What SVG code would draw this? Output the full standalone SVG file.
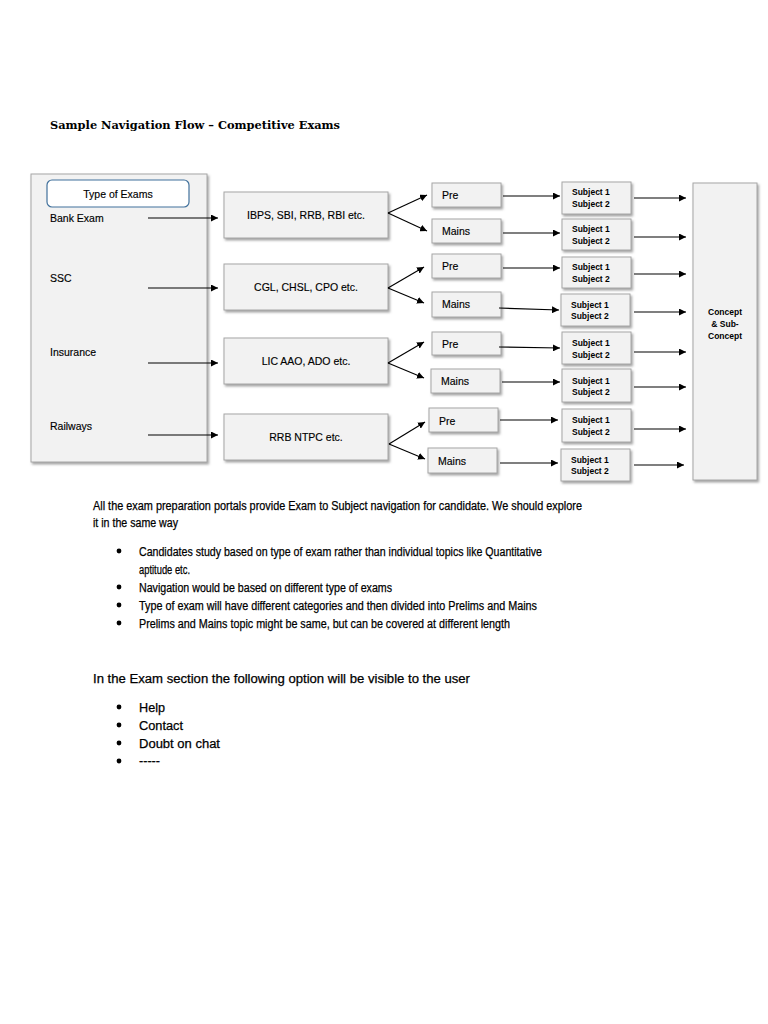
<svg xmlns="http://www.w3.org/2000/svg" width="768" height="1024" viewBox="0 0 768 1024">
<defs>
<filter id="sh" x="-10%" y="-10%" width="130%" height="130%">
<feDropShadow dx="1.5" dy="2" stdDeviation="1" flood-color="#7f7f7f" flood-opacity="0.7"/>
</filter>
<marker id="ah" viewBox="0 0 10 10" refX="10" refY="5" markerWidth="7" markerHeight="7" markerUnits="userSpaceOnUse" orient="auto">
<path d="M0,0 L10,5 L0,10 z" fill="#000"/>
</marker>
<style>
.bx{fill:#f2f2f2;stroke:#a6a6a6;stroke-width:1;filter:url(#sh)}
.t{font-family:"Liberation Sans",Arial,sans-serif;font-size:10.5px;fill:#000;stroke:#000;stroke-width:0.15}
.c{text-anchor:middle}
.s{font-family:"Liberation Sans",Arial,sans-serif;font-size:8.5px;font-weight:bold;fill:#000}
.b{font-family:"Liberation Sans",Arial,sans-serif;font-size:12.5px;fill:#000;stroke:#000;stroke-width:0.25}
.ln{stroke:#000;stroke-width:1.2;fill:none;marker-end:url(#ah)}
</style>
</defs>
<rect width="768" height="1024" fill="#fff"/>
<text x="50" y="129" font-family="DejaVu Serif,Liberation Serif,serif" font-weight="bold" font-size="11.5" textLength="290" lengthAdjust="spacingAndGlyphs">Sample Navigation Flow – Competitive Exams</text>

<g id="types">
<rect class="bx" x="31" y="174" width="176" height="288"/>
<rect x="47" y="180" width="142" height="27" rx="5" fill="#fff" stroke="#41719c" stroke-width="1.2"/>
<text class="t c" x="118" y="198">Type of Exams</text>
<text class="t" x="50" y="222">Bank Exam</text>
<text class="t" x="50" y="282">SSC</text>
<text class="t" x="50" y="356">Insurance</text>
<text class="t" x="50" y="430">Railways</text>
</g>

<g id="cat-bank"><rect class="bx" x="224" y="192" width="164" height="46"/><text class="t c" x="306" y="219">IBPS, SBI, RRB, RBI etc.</text></g>
<g id="cat-ssc"><rect class="bx" x="224" y="264" width="164" height="46"/><text class="t c" x="306" y="291">CGL, CHSL, CPO etc.</text></g>
<g id="cat-ins"><rect class="bx" x="224" y="338" width="164" height="46"/><text class="t c" x="306" y="365">LIC AAO, ADO etc.</text></g>
<g id="cat-rail"><rect class="bx" x="224" y="414" width="164" height="46"/><text class="t c" x="306" y="441">RRB NTPC etc.</text></g>

<g id="pre1"><rect class="bx" x="432" y="183" width="69" height="24"/><text class="t" x="442" y="199">Pre</text></g>
<g id="mains1"><rect class="bx" x="432" y="219" width="69" height="24"/><text class="t" x="442" y="235">Mains</text></g>
<g id="pre2"><rect class="bx" x="432" y="254" width="69" height="24"/><text class="t" x="442" y="270">Pre</text></g>
<g id="mains2"><rect class="bx" x="432" y="292" width="69" height="25"/><text class="t" x="442" y="308">Mains</text></g>
<g id="pre3"><rect class="bx" x="432" y="332" width="69" height="23"/><text class="t" x="442" y="348">Pre</text></g>
<g id="mains3"><rect class="bx" x="431" y="369" width="69" height="24"/><text class="t" x="441" y="385">Mains</text></g>
<g id="pre4"><rect class="bx" x="429" y="408" width="69" height="24"/><text class="t" x="439" y="425">Pre</text></g>
<g id="mains4"><rect class="bx" x="428" y="448" width="69" height="25"/><text class="t" x="438" y="465">Mains</text></g>

<g id="subj1"><rect class="bx" x="562" y="182" width="69" height="32"/><text class="s" x="572" y="194.5">Subject 1</text><text class="s" x="572" y="206.5">Subject 2</text></g>
<g id="subj2"><rect class="bx" x="562" y="219" width="69" height="31"/><text class="s" x="572" y="231.5">Subject 1</text><text class="s" x="572" y="243.5">Subject 2</text></g>
<g id="subj3"><rect class="bx" x="562" y="257" width="69" height="31"/><text class="s" x="572" y="269.5">Subject 1</text><text class="s" x="572" y="281.5">Subject 2</text></g>
<g id="subj4"><rect class="bx" x="561" y="294" width="69" height="32"/><text class="s" x="571" y="308">Subject 1</text><text class="s" x="571" y="319">Subject 2</text></g>
<g id="subj5"><rect class="bx" x="562" y="332" width="69" height="32"/><text class="s" x="572" y="346">Subject 1</text><text class="s" x="572" y="357.5">Subject 2</text></g>
<g id="subj6"><rect class="bx" x="562" y="369" width="69" height="33"/><text class="s" x="572" y="383.5">Subject 1</text><text class="s" x="572" y="395">Subject 2</text></g>
<g id="subj7"><rect class="bx" x="562" y="409" width="69" height="33"/><text class="s" x="572" y="422.5">Subject 1</text><text class="s" x="572" y="435">Subject 2</text></g>
<g id="subj8"><rect class="bx" x="561" y="449" width="69" height="32"/><text class="s" x="571" y="463">Subject 1</text><text class="s" x="571" y="474">Subject 2</text></g>

<g id="concept"><rect class="bx" x="693" y="183" width="64" height="297"/>
<text class="s c" x="725" y="315">Concept</text><text class="s c" x="725" y="327">&amp; Sub-</text><text class="s c" x="725" y="339">Concept</text></g>

<g id="connectors">
<path class="ln" d="M148,218 H218"/>
<path class="ln" d="M148,288 H218"/>
<path class="ln" d="M148,363 H218"/>
<path class="ln" d="M148,435 H218"/>
<path class="ln" d="M388,213 L427,195"/>
<path class="ln" d="M388,213 L427,231"/>
<path class="ln" d="M388,288 L424,267"/>
<path class="ln" d="M388,288 L424,303"/>
<path class="ln" d="M388,363 L424,342"/>
<path class="ln" d="M388,363 L424,378"/>
<path class="ln" d="M389,444 L425,422"/>
<path class="ln" d="M389,444 L425,459"/>
<path class="ln" d="M503,196 H560"/>
<path class="ln" d="M503,233 H560"/>
<path class="ln" d="M503,268 H560"/>
<path class="ln" d="M499,308 L559,310"/>
<path class="ln" d="M499,347 L560,348"/>
<path class="ln" d="M502,382 H560"/>
<path class="ln" d="M500,420 H558"/>
<path class="ln" d="M500,463 H558"/>
<path class="ln" d="M634,198 H686"/>
<path class="ln" d="M634,237 H686"/>
<path class="ln" d="M634,274 H686"/>
<path class="ln" d="M634,312 H686"/>
<path class="ln" d="M634,352 H686"/>
<path class="ln" d="M634,387 H686"/>
<path class="ln" d="M634,429 H686"/>
<path class="ln" d="M634,465 H684"/>
</g>

<g id="notes">
<text class="b" x="93" y="510" textLength="489" lengthAdjust="spacingAndGlyphs">All the exam preparation portals provide Exam to Subject navigation for candidate. We should explore</text>
<text class="b" x="93" y="527" textLength="85" lengthAdjust="spacingAndGlyphs">it in the same way</text>
<circle cx="119" cy="551" r="2.4"/>
<text class="b" x="139" y="556" textLength="403" lengthAdjust="spacingAndGlyphs">Candidates study based on type of exam rather than individual topics like Quantitative</text>
<text class="b" x="139" y="574" textLength="51" lengthAdjust="spacingAndGlyphs">aptitude etc.</text>
<circle cx="119" cy="587" r="2.4"/>
<text class="b" x="139" y="592" textLength="253" lengthAdjust="spacingAndGlyphs">Navigation would be based on different type of exams</text>
<circle cx="119" cy="605" r="2.4"/>
<text class="b" x="139" y="610" textLength="398" lengthAdjust="spacingAndGlyphs">Type of exam will have different categories and then divided into Prelims and Mains</text>
<circle cx="119" cy="623" r="2.4"/>
<text class="b" x="139" y="628" textLength="371" lengthAdjust="spacingAndGlyphs">Prelims and Mains topic might be same, but can be covered at different length</text>
<text class="b" x="93" y="683" textLength="377" lengthAdjust="spacingAndGlyphs">In the Exam section the following option will be visible to the user</text>
<circle cx="119" cy="707" r="2.4"/>
<text class="b" x="139" y="712" textLength="26" lengthAdjust="spacingAndGlyphs">Help</text>
<circle cx="119" cy="725" r="2.4"/>
<text class="b" x="139" y="730" textLength="44" lengthAdjust="spacingAndGlyphs">Contact</text>
<circle cx="119" cy="743" r="2.4"/>
<text class="b" x="139" y="748" textLength="81" lengthAdjust="spacingAndGlyphs">Doubt on chat</text>
<circle cx="119" cy="761" r="2.4"/>
<text class="b" x="139" y="765" textLength="21" lengthAdjust="spacingAndGlyphs">-----</text>
</g>
</svg>
